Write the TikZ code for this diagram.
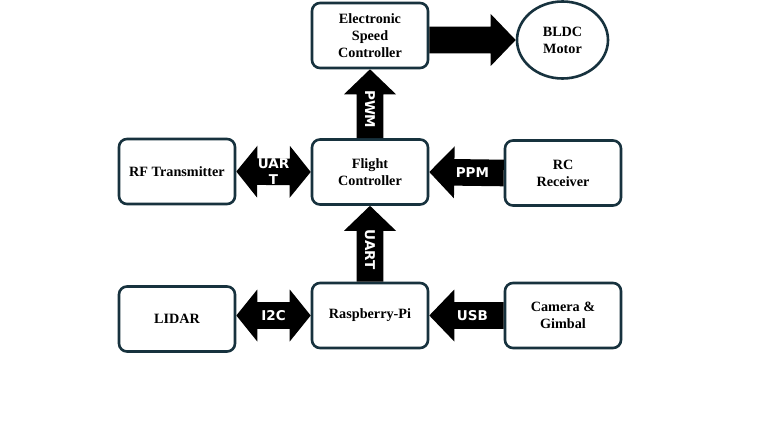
\documentclass[tikz,border=0pt]{standalone}
\usepackage{fontspec}
\setmainfont{Liberation Serif}
\newfontfamily\lblfont{DejaVu Sans}
\usetikzlibrary{calc,shapes.geometric}
\definecolor{boxline}{RGB}{23,50,62}
\tikzset{
  blk/.style={draw=boxline, line width=2.6pt, rounded corners=8pt, fill=white,
    minimum width=116pt, minimum height=65pt, inner sep=2pt, align=center,
    font=\fontsize{14.2}{17}\selectfont\bfseries},
  circ/.style={draw=boxline, line width=2.6pt, ellipse, fill=white,
    minimum width=91pt, minimum height=77pt, inner sep=0pt, align=center,
    font=\fontsize{14.2}{17}\selectfont\bfseries},
  lbl/.style={text=white, font=\lblfont\fontsize{13.5}{16}\selectfont\bfseries,
    inner sep=0pt, align=center},
  fat/.style={fill=black},
}
\newcommand\sw{13.3pt}
\newcommand\hw{26pt}
% single fat arrow: #1 from, #2 to, #3 label name, #4 label, #5 rotation, #6 head length
\newcommand\fatarrow[6]{%
  \coordinate (fa1) at (#1); \coordinate (fa2) at (#2);
  \coordinate (fb) at ($(fa2)!#6!(fa1)$);
  \fill[fat] ($(fa1)!\sw!90:(fa2)$) -- ($(fb)!\sw!-90:(fa1)$) -- ($(fb)!\hw!-90:(fa1)$)
    -- (fa2) -- ($(fb)!\hw!90:(fa1)$) -- ($(fb)!\sw!90:(fa1)$)
    -- ($(fa1)!\sw!-90:(fa2)$) -- cycle;
  \node[lbl, rotate=#5] (#3) at ($(fa1)!0.42!(fa2)$) {#4};
}
% double fat arrow
\newcommand\fatdarrow[6]{%
  \coordinate (fa1) at (#1); \coordinate (fa2) at (#2);
  \coordinate (fb1) at ($(fa1)!#6!(fa2)$);
  \coordinate (fb2) at ($(fa2)!#6!(fa1)$);
  \fill[fat] (fa1) -- ($(fb1)!\hw!90:(fa2)$) -- ($(fb1)!\sw!90:(fa2)$)
    -- ($(fb2)!\sw!-90:(fa1)$) -- ($(fb2)!\hw!-90:(fa1)$) -- (fa2)
    -- ($(fb2)!\hw!90:(fa1)$) -- ($(fb2)!\sw!90:(fa1)$)
    -- ($(fb1)!\sw!-90:(fa2)$) -- ($(fb1)!\hw!-90:(fa2)$) -- cycle;
  \node[lbl, rotate=#5] (#3) at ($(fa1)!0.5!(fa2)$) {#4};
}
\begin{document}
\begin{tikzpicture}[x=1pt, y=-1pt]
  \useasboundingbox (0,0) rectangle (768,433);
  \fill[white] (0,0) rectangle (768,433);

  \node[blk] (esc) at (370,35.5) {Electronic\\Speed\\Controller};
  \node[circ] (bldc) at (562.5,40) {BLDC\\Motor};
  \node[blk] (fc) at (370,172) {Flight\\Controller};
  \node[blk] (rf) at (177,171.5) {RF Transmitter};
  \node[blk] (rc) at (563,173) {RC\\Receiver};
  \node[blk] (lidar) at (177,319) {LIDAR};
  \node[blk] (rpi) at (370,315.5) {Raspberry-Pi};
  \node[blk] (cam) at (563,315.5) {Camera \&\\Gimbal};

  \fatarrow{esc.east |- bldc.west}{bldc.west}{lmot}{}{0}{25pt}
  \fatarrow{fc.north}{esc.south}{lpwm}{PWM}{-90}{25pt}
  \fatarrow{rpi.north}{fc.south}{luart}{UART}{-90}{25pt}
  \fatarrow{rc.west}{fc.east}{lppm}{PPM}{0}{25pt}
  \fatarrow{cam.west}{rpi.east}{lusb}{USB}{0}{25pt}
  \fatdarrow{rf.east}{fc.west}{luart2}{UAR\\T}{0}{21pt}
  \fatdarrow{lidar.east |- rpi.west}{rpi.west}{li2c}{I2C}{0}{21pt}
\end{tikzpicture}
\end{document}
